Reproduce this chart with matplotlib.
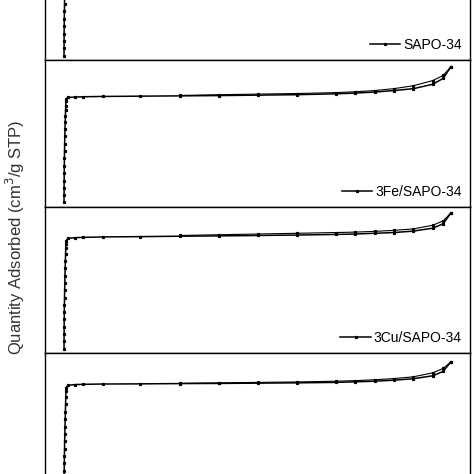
import matplotlib
matplotlib.use("Agg")
import matplotlib.pyplot as plt

plt.rcParams['font.family'] = ['Liberation Sans', 'DejaVu Sans']

# Shared relative pressures (P/P0)
p_low = [0.00005, 0.0001, 0.0002, 0.0003, 0.0005, 0.0007, 0.001, 0.0013, 0.0016, 0.002,
         0.0025, 0.003, 0.0035, 0.004, 0.0045, 0.005, 0.006]
p_ads = [0.0095, 0.028, 0.05, 0.10, 0.196, 0.30, 0.40, 0.50, 0.60, 0.70, 0.75, 0.80,
         0.85, 0.90, 0.95, 0.977, 0.997]
p_des = [0.997, 0.977, 0.95, 0.90, 0.85, 0.80, 0.75, 0.70, 0.60, 0.50, 0.40, 0.30]

labels = ["SAPO-34", "3Fe/SAPO-34", "3Cu/SAPO-34", "3Mn/SAPO-34"]

# Quantity adsorbed (normalised to each panel)
low_sapo = [0.03, 0.08, 0.13, 0.18, 0.23, 0.28, 0.33, 0.38, 0.43, 0.48, 0.53, 0.58, 0.62, 0.66, 0.69, 0.72, 0.74]
ads_sapo = [0.75, 0.755, 0.757, 0.76, 0.762, 0.765, 0.768, 0.772, 0.777, 0.785, 0.79, 0.797, 0.807, 0.823, 0.85, 0.88, 0.95]
des_sapo = [0.95, 0.9, 0.87, 0.835, 0.815, 0.803, 0.795, 0.789, 0.781, 0.775, 0.77, 0.766]

low_fe = [0.034, 0.08, 0.13, 0.18, 0.23, 0.28, 0.33, 0.38, 0.43, 0.48, 0.53, 0.58, 0.62, 0.66, 0.69, 0.72, 0.735]
ads_fe = [0.745, 0.748, 0.75, 0.752, 0.754, 0.756, 0.758, 0.761, 0.764, 0.770, 0.775, 0.782, 0.792, 0.805, 0.835, 0.875, 0.955]
des_fe = [0.955, 0.895, 0.86, 0.825, 0.805, 0.792, 0.784, 0.778, 0.772, 0.768, 0.764, 0.759]

low_cu = [0.03, 0.08, 0.13, 0.18, 0.23, 0.28, 0.33, 0.38, 0.43, 0.48, 0.53, 0.58, 0.63, 0.68, 0.72, 0.75, 0.77]
ads_cu = [0.785, 0.79, 0.792, 0.795, 0.797, 0.80, 0.802, 0.805, 0.808, 0.812, 0.815, 0.82, 0.825, 0.835, 0.855, 0.885, 0.96]
des_cu = [0.96, 0.905, 0.875, 0.85, 0.84, 0.833, 0.828, 0.825, 0.82, 0.815, 0.81, 0.805]

low_mn = [0.0, 0.05, 0.1, 0.15, 0.2, 0.25, 0.3, 0.35, 0.4, 0.45, 0.5, 0.55, 0.6, 0.65, 0.7, 0.74, 0.765]
ads_mn = [0.78, 0.785, 0.787, 0.789, 0.79, 0.792, 0.793, 0.795, 0.797, 0.80, 0.804, 0.808, 0.815, 0.825, 0.845, 0.875, 0.94]
des_mn = [0.94, 0.895, 0.865, 0.838, 0.826, 0.818, 0.812, 0.808, 0.803, 0.80, 0.797, 0.794]

series = [(low_sapo, ads_sapo, des_sapo), (low_fe, ads_fe, des_fe),
          (low_cu, ads_cu, des_cu), (low_mn, ads_mn, des_mn)]

W = 474.0
fig = plt.figure(figsize=(4.74, 4.74), dpi=100)
extents = [(-87, 60), (60, 207), (207, 353), (353, 500)]
left, right = 45, 470
for (top, bot), (low, ads, des), lab in zip(extents, series, labels):
    ax = fig.add_axes([left / W, 1 - bot / W, (right - left) / W, (bot - top) / W])
    ax.plot(p_low + p_ads, low + ads, color="black", lw=1.1, marker="s", ms=1.3, label=lab)
    ax.plot(p_des, des, color="black", lw=0.8, marker="s", ms=1.3)
    ax.set_xlim(-0.049, 1.046)
    ax.set_ylim(0, 1)
    ax.set_xticks([]); ax.set_yticks([])
    for s in ax.spines.values():
        s.set_linewidth(1.0)
    if lab != "3Mn/SAPO-34":
        ax.legend(loc="lower right", frameon=False, fontsize=10, handlelength=2.2,
                  handletextpad=0.2, borderaxespad=0.2)

fig.text(15 / W, 0.5, "Quantity Adsorbed (cm$^3$/g STP)", rotation=90,
         ha="center", va="center", fontsize=12, color="#333333")
fig.savefig("out.png", dpi=100)
